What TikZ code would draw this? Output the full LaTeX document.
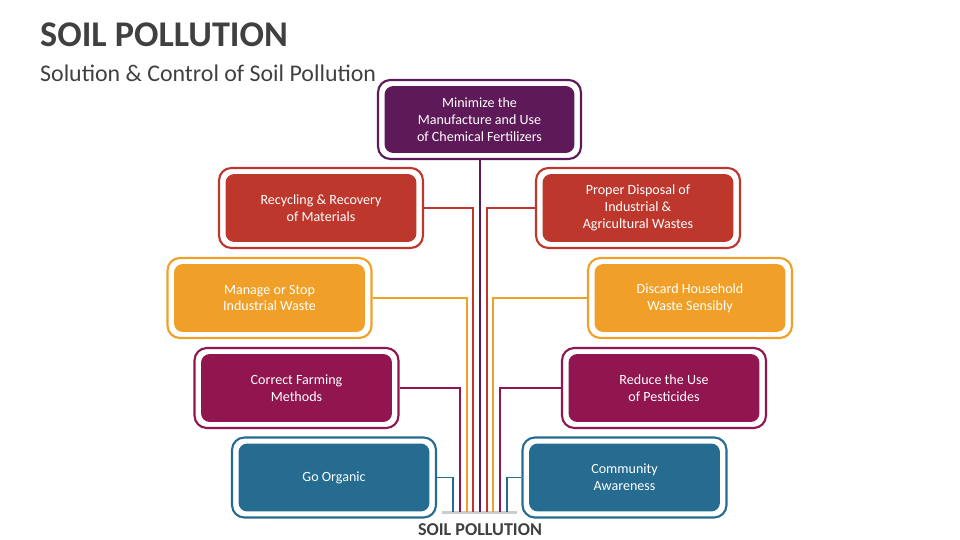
\documentclass[tikz,border=0pt]{standalone}
\usepackage{fontspec}
\setmainfont{Carlito}
\definecolor{cpurple}{RGB}{94,25,88}
\definecolor{cred}{RGB}{190,55,45}
\definecolor{corange}{RGB}{240,160,40}
\definecolor{cmagenta}{RGB}{145,22,80}
\definecolor{cteal}{RGB}{38,108,145}
\definecolor{ctitle}{RGB}{64,64,64}
\tikzset{
  frame/.style={draw=#1, line width=1.2pt, fill=white, rounded corners=7pt,
    minimum width=4.08cm, minimum height=1.6cm},
  card/.style={fill=#1, rounded corners=5pt, minimum width=3.82cm,
    minimum height=1.36cm, text=white, align=center,
    font=\fontsize{8}{9.6}\selectfont},
  link/.style={draw=#1, line width=1.1pt}
}
\begin{document}
\begin{tikzpicture}[x=0.02cm,y=-0.02cm]
\useasboundingbox (0,0) rectangle (960,540);
\node[anchor=west, font=\fontsize{20.6}{24}\bfseries\selectfont, text=ctitle] (title) at (34,35) {SOIL POLLUTION};
\node[anchor=west, font=\fontsize{13.6}{16}\selectfont, text=ctitle] (subtitle) at (34,73) {Solution \& Control of Soil Pollution};
% bottom base
\fill[gray!40] (442,511) rectangle (517,514);
\node[font=\fontsize{10.3}{12}\bfseries\selectfont, text=ctitle] (base) at (480,530) {SOIL POLLUTION};
% connectors
\coordinate (b1) at (453,512); \coordinate (b2) at (460,512);
\coordinate (b3) at (467,512); \coordinate (b4) at (473,512);
\coordinate (b5) at (480,512); \coordinate (b6) at (487,512);
\coordinate (b7) at (493,512); \coordinate (b8) at (500,512);
\coordinate (b9) at (507,512);
% boxes
\node[frame=cpurple, minimum width=4.06cm, minimum height=1.58cm] (topf) at (479.5,119.5) {};
\node[card=cpurple, minimum width=3.8cm, minimum height=1.34cm] (top) at (topf) {Minimize the\\Manufacture and Use\\of Chemical Fertilizers};
\node[frame=cred] (recf) at (321,208) {};
\node[card=cred] (rec) at (recf) {Recycling \& Recovery\\of Materials};
\node[frame=cred] (dispf) at (638,208) {};
\node[card=cred] (disp) at (dispf) {Proper Disposal of\\Industrial \&\\Agricultural Wastes};
\node[frame=corange] (indf) at (269.5,298) {};
\node[card=corange] (ind) at (indf) {Manage or Stop\\Industrial Waste};
\node[frame=corange] (housef) at (690,298) {};
\node[card=corange] (house) at (housef) {Discard Household\\Waste Sensibly};
\node[frame=cmagenta] (farmf) at (296.5,388) {};
\node[card=cmagenta] (farm) at (farmf) {Correct Farming\\Methods};
\node[frame=cmagenta] (pestf) at (664,388) {};
\node[card=cmagenta] (pest) at (pestf) {Reduce the Use\\of Pesticides};
\node[frame=cteal] (orgf) at (334,477.5) {};
\node[card=cteal] (org) at (orgf) {Go Organic};
\node[frame=cteal] (commf) at (624.5,477.5) {};
\node[card=cteal] (comm) at (commf) {Community\\Awareness};
% links
\draw[link=cpurple] (topf.south -| b5) -- (b5);
\draw[link=cred] (recf.east) -| (b4);
\draw[link=cred] (dispf.west) -| (b6);
\draw[link=corange] (indf.east) -| (b3);
\draw[link=corange] (housef.west) -| (b7);
\draw[link=cmagenta] (farmf.east) -| (b2);
\draw[link=cmagenta] (pestf.west) -| (b8);
\draw[link=cteal] (orgf.east) -| (b1);
\draw[link=cteal] (commf.west) -| (b9);
\end{tikzpicture}
\end{document}
